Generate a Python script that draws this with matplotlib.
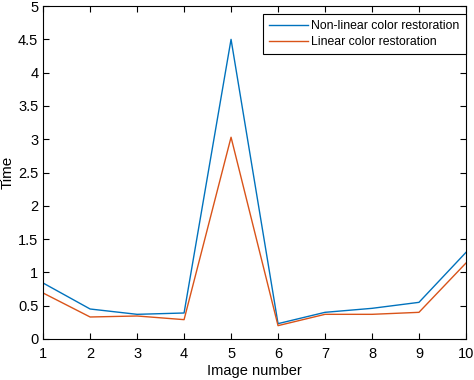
import matplotlib
matplotlib.use("Agg")
import matplotlib.pyplot as plt
import numpy as np

plt.rcParams['font.family'] = ['Liberation Sans', 'DejaVu Sans']

images = np.arange(1, 11)
nonlinear = [0.84, 0.45, 0.37, 0.39, 4.50, 0.23, 0.40, 0.46, 0.55, 1.30]
linear = [0.69, 0.33, 0.345, 0.29, 3.03, 0.20, 0.37, 0.37, 0.40, 1.14]

fig = plt.figure(figsize=(4.74, 3.80), dpi=100)
ax = fig.add_axes([0.091, 0.108, 0.892, 0.876])

ax.plot(images, nonlinear, color=(0, 0.447, 0.741), lw=1.0,
        label='Non-linear color restoration')
ax.plot(images, linear, color=(0.85, 0.325, 0.098), lw=1.0,
        label='Linear color restoration')

ax.set_xlim(1, 10)
ax.set_ylim(0, 5)
ax.set_xticks(images)
ax.set_yticks(np.arange(0, 5.01, 0.5))
ax.set_yticklabels(['0', '0.5', '1', '1.5', '2', '2.5', '3', '3.5', '4', '4.5', '5'])
ax.tick_params(direction='in', top=True, right=True, labelsize=10.5, length=4, width=0.8)
ax.tick_params(axis='x', pad=6)
for s in ax.spines.values():
    s.set_linewidth(0.8)

ax.set_xlabel('Image number', fontsize=10.5, labelpad=2)
ax.set_ylabel('Time', fontsize=11, labelpad=2)

leg = ax.legend(loc='upper right', fontsize=8.8, frameon=True, fancybox=False,
                edgecolor='black', framealpha=1, borderpad=0.5, handlelength=3.2,
                handletextpad=0.25, labelspacing=0.3, borderaxespad=0,
                bbox_to_anchor=(0.999, 0.976))
leg.get_frame().set_linewidth(0.8)

fig.savefig('out.png', dpi=100)
